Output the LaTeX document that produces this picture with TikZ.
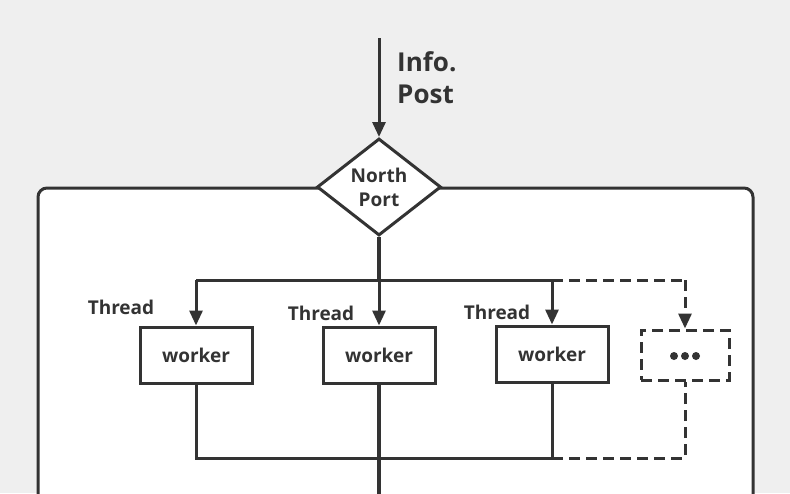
\documentclass[tikz,border=0pt]{standalone}
\usepackage{fontspec}
\setmainfont{Open Sans}
\usetikzlibrary{shapes.geometric,arrows.meta}
\definecolor{ink}{HTML}{333333}
\definecolor{bg}{HTML}{EFEFEF}
\begin{document}
\begin{tikzpicture}[x=1pt,y=-1pt,
  line/.style={draw=ink,line width=3pt},
  dline/.style={line,dash pattern=on 11pt off 6pt},
  arr/.style={-{Triangle[length=15pt,width=13pt]}},
  workerbox/.style={line,fill=white,minimum width=112pt,minimum height=56pt,inner sep=0pt,font=\fontsize{19}{22}\selectfont\bfseries,text=ink},
  lbl/.style={font=\fontsize{19}{22}\selectfont\bfseries,text=ink,inner sep=0pt}]
\useasboundingbox (0,0) rectangle (790,493);
\clip (0,0) rectangle (790,493);
\fill[bg] (0,0) rectangle (790,493);
% container
\draw[line,fill=white,rounded corners=9pt] (38,520) -- (38,188) -- (753,188) -- (753,520);
% top
\coordinate (src) at (379,38);
\node[diamond,line,fill=white,minimum width=124pt,minimum height=97pt,inner sep=0pt,align=center,
  font=\fontsize{19}{24}\selectfont\bfseries,text=ink] (port) at (379,187) {North\\Port};
\draw[line,arr] (src) -- (port.north);
\node[anchor=north west,align=left,font=\fontsize{26}{32}\selectfont\bfseries,text=ink,inner sep=0pt] (info) at (397,51) {Info.\\Post};
% workers
\node[workerbox] (w1) at (196,355) {worker};
\node[workerbox] (w2) at (379,355) {worker};
\node[workerbox] (w3) at (552,354) {worker};
\node[workerbox,dline,minimum width=88pt,minimum height=50pt] (w4) at (685,355) {};
\foreach \i in {-1,0,1} \fill[ink] (685+\i*11,356) circle (4pt);
\node[lbl] (t1) at (121,307) {Thread};
\node[lbl] (t2) at (321,313) {Thread};
\node[lbl] (t3) at (497,312) {Thread};
% bus
\coordinate (bus) at (379,280);
\coordinate (b1) at (196,280);
\coordinate (b3) at (552,280);
\coordinate (b4) at (685,280);
\draw[line,line width=3.5pt] (port.south) -- (bus);
\draw[line] (b1) -- (b3);
\draw[line,arr] (b1) -- (w1.north);
\draw[line,arr] (bus) -- (w2.north);
\draw[line,arr] (b3) -- (w3.north);
\draw[dline] (b3) -- (b4);
\draw[dline,arr] (b4) -- (w4.north);
% bottom
\coordinate (j1) at (196,458);
\coordinate (j3) at (552,458);
\coordinate (j4) at (685,458);
\coordinate (out) at (379,500);
\draw[line] (w1.south) -- (j1) -- (j3) -- (w3.south);
\draw[line,line width=3.5pt] (w2.south) -- (out);
\draw[dline] (j3) -- (j4) -- (w4.south);
\end{tikzpicture}
\end{document}
